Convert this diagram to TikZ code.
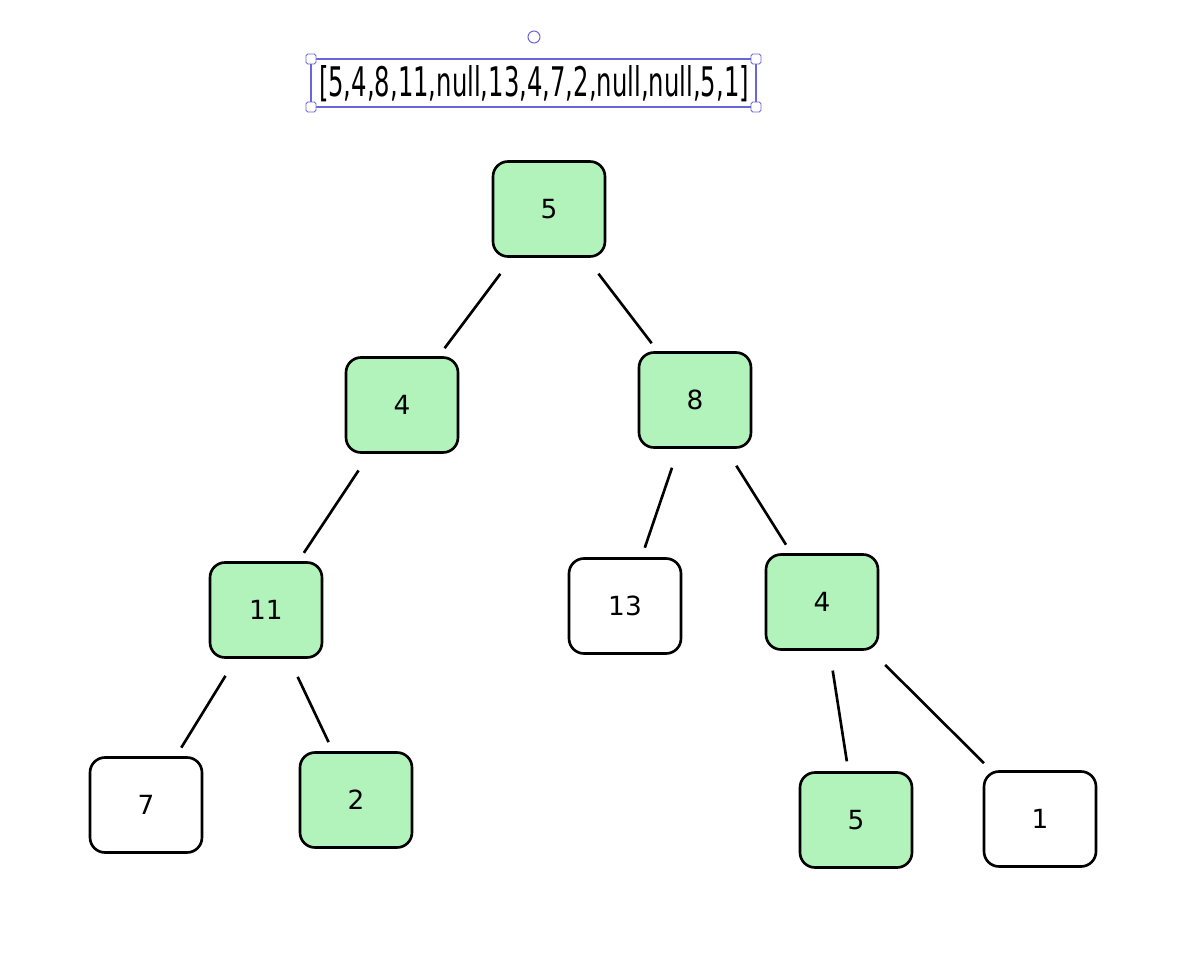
\documentclass[tikz,border=0pt]{standalone}
\usepackage{fontspec}
\usepackage{graphicx}
\setmainfont{DejaVu Sans}
\definecolor{mint}{HTML}{B2F2BB}
\definecolor{selblue}{HTML}{6965DB}
\tikzset{
  box/.style={draw=black,line width=1.5pt,rounded corners=0.3cm,minimum width=2.24cm,minimum height=1.9cm,font=\fontsize{15}{17}\selectfont},
  hit/.style={box,fill=mint},
  miss/.style={box,fill=white},
  edge/.style={line width=1.5pt,shorten >=0.2cm,shorten <=0.4cm},
  handle/.style={draw=selblue,fill=white,line width=0.5pt,minimum size=0.2cm,inner sep=0pt,rounded corners=1pt}
}
\begin{document}
\begin{tikzpicture}[x=0.02cm,y=-0.02cm]
\useasboundingbox (0,0) rectangle (1200,970);

% selected array label
\node[inner sep=0pt] (arr) at (534,84) {\resizebox{8.6cm}{0.62cm}{[5,4,8,11,null,13,4,7,2,null,null,5,1]}};
\draw[selblue,line width=0.6pt] (311,59) rectangle (756,107);
\foreach \x/\y in {311/59, 756/59, 311/107, 756/107}
  \node[handle] at (\x,\y) {};
\node[draw=selblue,circle,line width=0.6pt,minimum size=0.24cm,inner sep=0pt] (rot) at (534,37) {};

% tree
\node[hit]  (n5)  at (549,209) {5};
\node[hit]  (n4)  at (402,405) {4};
\node[hit]  (n8)  at (695,400) {8};
\node[hit]  (n11) at (266,610) {11};
\node[miss] (n13) at (625,606) {13};
\node[hit]  (n4b) at (822,602) {4};
\node[miss] (n7)  at (146,805) {7};
\node[hit]  (n2)  at (356,800) {2};
\node[hit]  (n5b) at (856,820) {5};
\node[miss] (n1)  at (1040,819) {1};

\foreach \a/\b in {n5/n4, n5/n8, n4/n11, n8/n13, n8/n4b, n11/n7, n11/n2, n4b/n5b, n4b/n1}
  \draw[edge] (\a) -- (\b);
\end{tikzpicture}
\end{document}
